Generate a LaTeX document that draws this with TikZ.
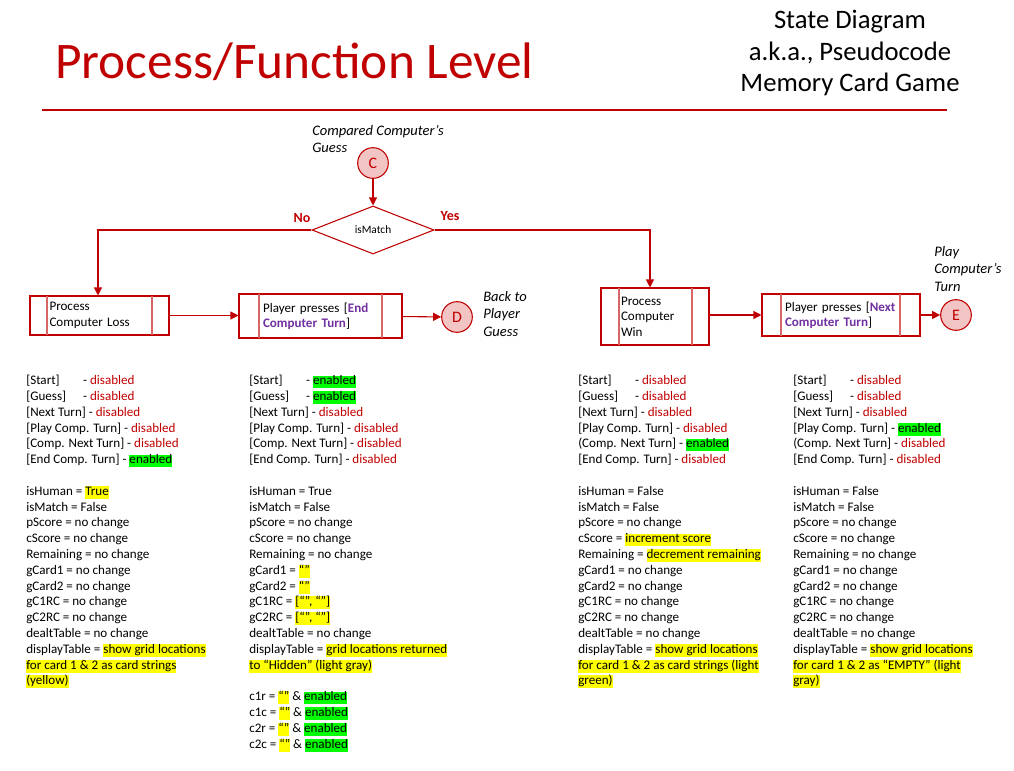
\documentclass[tikz,border=0pt]{standalone}
\usepackage{fontspec}
\setmainfont{Carlito}
\usetikzlibrary{shapes.geometric,arrows.meta}
\definecolor{dred}{HTML}{C00000}
\definecolor{pinkf}{HTML}{F2C4C4}
\definecolor{purp}{HTML}{7030A0}
\definecolor{hl}{HTML}{FFFF00}
\definecolor{hgr}{HTML}{00FF00}
\newcommand{\hy}[1]{{\setlength{\fboxsep}{0pt}\colorbox{hl}{\rule[-2.6pt]{0pt}{9.3pt}#1}}}
\newcommand{\hgg}[1]{{\setlength{\fboxsep}{0pt}\colorbox{hgr}{\rule[-2.6pt]{0pt}{9.3pt}#1}}}
\newcommand{\dis}{\textcolor{dred}{disabled}}
\newcommand{\bl}[1]{\makebox[4.35em][l]{#1}}
\begin{document}
\begin{tikzpicture}[x=0.75pt,y=-0.75pt,
  proc/.style={draw=dred,thick,minimum height=#1,inner sep=0,align=left,font=\fontsize{9.8}{11.5}\selectfont},
  circ/.style={circle,draw=dred,thick,fill=pinkf,minimum size=23pt,inner sep=0,font=\fontsize{12}{14}\selectfont,text=dred},
  lab/.style={font=\itshape\fontsize{10.9}{13}\selectfont,align=left,anchor=north west,inner sep=0},
  col/.style={anchor=north west,inner sep=0,align=left,font=\fontsize{9.8}{11.85}\selectfont},
  arr/.style={draw=dred,thick,-{Triangle[length=6pt,width=6pt]}},
  yn/.style={text=dred,font=\bfseries\fontsize{10.5}{12}\selectfont}]
\useasboundingbox (0,0) rectangle (1014,771);
\node[text=dred,font=\fontsize{38.5}{40}\selectfont,anchor=base west,inner sep=0] (title) at (55,78) {Process/Function Level};
\node[align=center,font=\fontsize{20}{23.3}\selectfont] (sub) at (850,53) {State Diagram\\a.k.a., Pseudocode\\Memory Card Game};
\draw[dred,thick] (42,110) -- (947,110);
% C and diamond
\node[circ] (C) at (373,163) {C};
\node[lab] (lc) at (312,125) {Compared Computer’s\\Guess};
\node[diamond,draw=dred,thick,aspect=2.55,minimum width=122pt*0.75,minimum height=48pt*0.75,inner sep=0,font=\fontsize{8.5}{10}\selectfont] (dia) at (373,230) {isMatch};
\draw[arr] (C) -- (dia);
\node[yn] (no) at (302,218) {No};
\node[yn] (yes) at (450,216) {Yes};
% boxes
\node[proc=39*0.75pt,minimum width=139*0.75pt,text width=100*0.75pt] (b1) at (99.5,315.5) {Process\\Computer Loss};
\draw[dred!60,thick] (47,296) -- (47,335) (152,296) -- (152,335);
\node[proc=44*0.75pt,minimum width=163*0.75pt,text width=115*0.75pt] (b2) at (320.5,316) {Player presses [\textcolor{purp}{\textbf{End}}\\\textcolor{purp}{\textbf{Computer Turn}}]};
\draw[dred!60,thick] (259,294) -- (259,338) (382,294) -- (382,338);
\node[circ] (D) at (457,317) {D};
\node[lab] (ld) at (483,291) {Back to\\Player\\Guess};
\node[proc=57*0.75pt,minimum width=108*0.75pt,text width=68*0.75pt] (b3) at (655,316.5) {Process\\Computer\\Win};
\draw[dred!60,thick] (619,288) -- (619,345) (692,288) -- (692,345);
\node[proc=42*0.75pt,minimum width=158*0.75pt,text width=112*0.75pt] (b4) at (841,315) {Player presses [\textcolor{purp}{\textbf{Next}}\\\textcolor{purp}{\textbf{Computer Turn}}]};
\draw[dred!60,thick] (781,294) -- (781,336) (900,294) -- (900,336);
\node[circ] (E) at (956,315) {E};
\node[lab] (le) at (934,246) {Play\\Computer’s\\Turn};
% connectors
\draw[arr] (dia.west) -| (b1.north -| 98,0);
\draw[arr] (dia.east) -| (b3.north -| 650,0);
\draw[arr] (b1.east) -- (b2.west |- b1.east);
\draw[arr] (b2) -- (D);
\draw[arr] (b3.east |- b4) -- (b4);
\draw[arr] (b4) -- (E);
% columns
\node[col] (t1) at (26,375) {\bl{[Start]}- \dis\\\bl{[Guess]}- \dis\\{}[Next Turn] - \dis\\{}[Play Comp. Turn] - \dis\\{}[Comp. Next Turn] - \dis\\{}[End Comp. Turn] - \hgg{enabled}\\[11.85pt]
isHuman = \hy{True}\\isMatch = False\\pScore = no change\\cScore = no change\\Remaining = no change\\gCard1 = no change\\gCard2 = no change\\gC1RC = no change\\gC2RC = no change\\dealtTable = no change\\displayTable = \hy{show grid locations}\\\hy{for card 1 \& 2 as card strings}\\\hy{(yellow)}};
\node[col] (t2) at (249,375) {\bl{[Start]}- \hgg{enabled}\\\bl{[Guess]}- \hgg{enabled}\\{}[Next Turn] - \dis\\{}[Play Comp. Turn] - \dis\\{}[Comp. Next Turn] - \dis\\{}[End Comp. Turn] - \dis\\[11.85pt]
isHuman = True\\isMatch = False\\pScore = no change\\cScore = no change\\Remaining = no change\\gCard1 = \hy{“”}\\gCard2 = \hy{“”}\\gC1RC = \hy{[“”, “”]}\\gC2RC = \hy{[“”, “”]}\\dealtTable = no change\\displayTable = \hy{grid locations returned}\\\hy{to “Hidden” (light gray)}\\[11.85pt]
c1r = \hy{“”} \& \hgg{enabled}\\c1c = \hy{“”} \& \hgg{enabled}\\c2r = \hy{“”} \& \hgg{enabled}\\c2c = \hy{“”} \& \hgg{enabled}};
\node[col] (t3) at (578,375) {\bl{[Start]}- \dis\\\bl{[Guess]}- \dis\\{}[Next Turn] - \dis\\{}[Play Comp. Turn] - \dis\\(Comp. Next Turn] - \hgg{enabled}\\{}[End Comp. Turn] - \dis\\[11.85pt]
isHuman = False\\isMatch = False\\pScore = no change\\cScore = \hy{increment score}\\Remaining = \hy{decrement remaining}\\gCard1 = no change\\gCard2 = no change\\gC1RC = no change\\gC2RC = no change\\dealtTable = no change\\displayTable = \hy{show grid locations}\\\hy{for card 1 \& 2 as card strings (light}\\\hy{green)}};
\node[col] (t4) at (793,375) {\bl{[Start]}- \dis\\\bl{[Guess]}- \dis\\{}[Next Turn] - \dis\\{}[Play Comp. Turn] - \hgg{enabled}\\(Comp. Next Turn] - \dis\\{}[End Comp. Turn] - \dis\\[11.85pt]
isHuman = False\\isMatch = False\\pScore = no change\\cScore = no change\\Remaining = no change\\gCard1 = no change\\gCard2 = no change\\gC1RC = no change\\gC2RC = no change\\dealtTable = no change\\displayTable = \hy{show grid locations}\\\hy{for card 1 \& 2 as “EMPTY” (light}\\\hy{gray)}};
\end{tikzpicture}
\end{document}
